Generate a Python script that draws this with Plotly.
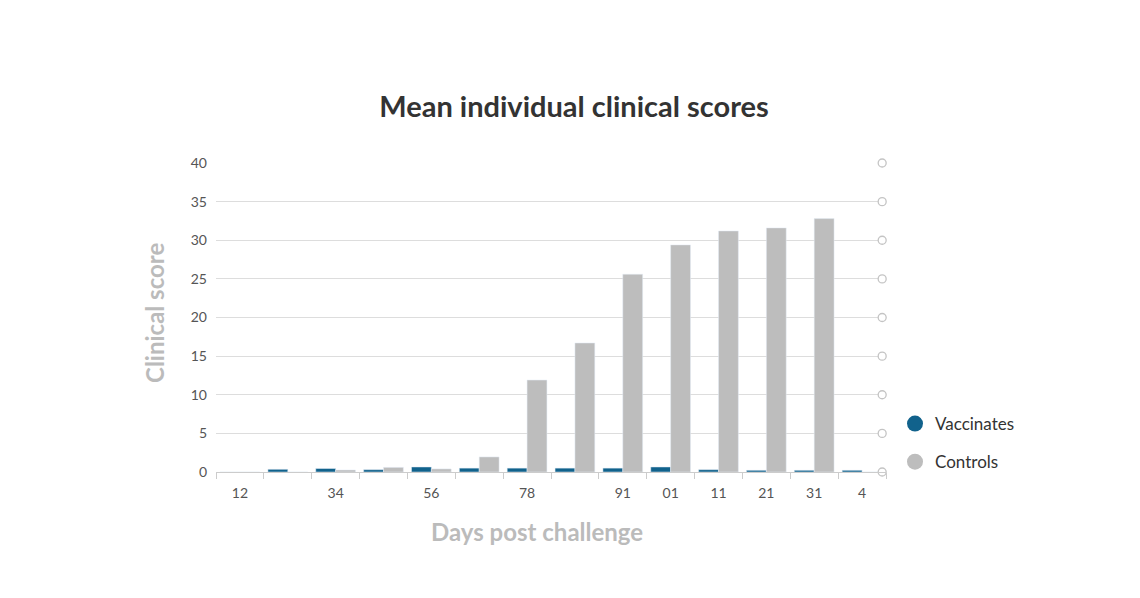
import plotly.graph_objects as go

days = [str(d) for d in range(1, 15)]
tick_labels = ["12", "", "34", "", "56", "", "78", "", "91", "01", "11", "21", "31", "4"]
vaccinates = [0.0, 0.35, 0.45, 0.3, 0.65, 0.5, 0.5, 0.5, 0.5, 0.65, 0.3, 0.22, 0.22, 0.22]
controls = [0.0, 0.0, 0.26, 0.6, 0.4, 1.95, 11.9, 16.7, 25.6, 29.4, 31.2, 31.6, 32.8, 0.0]
y_ticks = [0, 5, 10, 15, 20, 25, 30, 35, 40]

BLUE = "#11628c"
GRAY = "#bdbdbd"
FONT = "Lato"

# page is offset by the browser's default 8px body margin
OFF = 8
W, H = 1140 - OFF, 598 - OFF
L, T = 216 - OFF, 163 - OFF
PW, PH = 670, 309

fig = go.Figure()
fig.add_trace(go.Bar(x=days, y=vaccinates, name="Vaccinates", marker_color=BLUE,
                     showlegend=False, hoverinfo="y"))
fig.add_trace(go.Bar(x=days, y=controls, name="Controls", marker_color=GRAY,
                     showlegend=False, hoverinfo="y"))

# gridline end markers on the right edge
fig.add_trace(go.Scatter(x=[13.42] * len(y_ticks), y=y_ticks, mode="markers",
                         marker=dict(symbol="circle", size=8, color="white",
                                     line=dict(color="#c4c4c4", width=1.3)),
                         showlegend=False, hoverinfo="skip", cliponaxis=False,
                         xaxis="x2"))

# legend entries (circles)
fig.add_trace(go.Scatter(x=[None], y=[None], mode="markers", name="Vaccinates",
                         marker=dict(symbol="circle", size=16, color=BLUE),
                         legendgroup="a"))
fig.add_trace(go.Scatter(x=[None], y=[None], mode="markers", name="Controls",
                         marker=dict(symbol="circle", size=16, color=GRAY),
                         legendgroup="b"))

def px_x(x):
    return (x - 216) / PW

def px_y(y):
    return (472 - y) / PH

fig.update_layout(
    width=W, height=H,
    margin=dict(l=L, r=W - L - PW, t=T, b=H - T - PH),
    paper_bgcolor="white", plot_bgcolor="white",
    barmode="group", bargap=0.17, bargroupgap=0,
    font=dict(family=FONT, color="#555555", size=14),
    title=dict(text="<b>Mean individual clinical scores</b>", x=0.5, xanchor="center",
               y=1 - (107 - OFF) / H, yanchor="middle",
               font=dict(family=FONT, size=29, color="#333333")),
    xaxis=dict(type="category", categoryorder="array", categoryarray=days,
               tickmode="array", tickvals=days, ticktext=tick_labels,
               tickson="boundaries", ticks="outside", ticklen=6, tickcolor="#cccccc",
               showline=True, linecolor="#cccccc", linewidth=1,
               showgrid=False, tickfont=dict(size=14, color="#555555"),
               ticklabelstandoff=8, range=[-0.5, 13.5]),
    xaxis2=dict(overlaying="x", range=[-0.5, 13.5], visible=False,
                type="linear", anchor="y"),
    yaxis=dict(range=[0, 40], tickvals=y_ticks, showgrid=True, gridcolor="#dddddd",
               gridwidth=1, zeroline=False, showline=False,
               ticks="", ticklabelstandoff=8,
               tickfont=dict(size=14, color="#555555")),
    legend=dict(x=px_x(895), xanchor="left", y=px_y(406), yanchor="top",
                font=dict(family=FONT, size=17, color="#333333"),
                traceorder="grouped", tracegroupgap=13,
                itemsizing="trace", bgcolor="rgba(0,0,0,0)"),
    annotations=[
        dict(text="<b>Clinical score</b>", xref="paper", yref="paper",
             x=px_x(154), y=px_y(313), textangle=-90,
             showarrow=False, xanchor="center", yanchor="middle",
             font=dict(family=FONT, size=24, color="#bbbbbb")),
        dict(text="<b>Days post challenge</b>", xref="paper", yref="paper",
             x=px_x(537), y=px_y(531),
             showarrow=False, xanchor="center", yanchor="middle",
             font=dict(family=FONT, size=24, color="#bbbbbb")),
    ],
)

fig.write_html("out.html")
